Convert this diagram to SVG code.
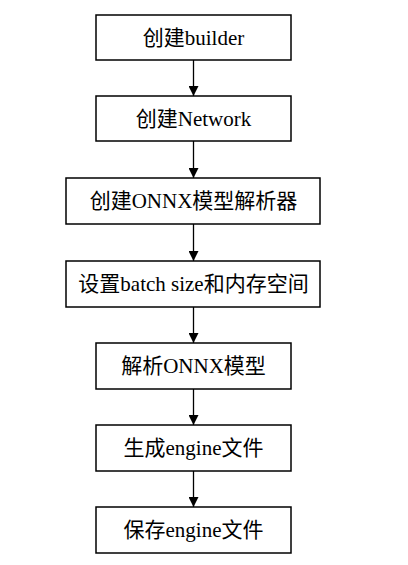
<svg xmlns="http://www.w3.org/2000/svg" width="408" height="565" viewBox="0 0 408 565">
<style>
.box{fill:#fff;stroke:#000;stroke-width:1.5}
.t{font-family:"Liberation Serif","Noto Sans CJK SC",serif;font-size:21px;fill:#000;text-anchor:middle;dominant-baseline:central}
.c{stroke:#000;stroke-width:1.3;fill:none;marker-end:url(#ah)}
</style>
<defs>
<marker id="ah" viewBox="0 0 10 10" refX="10" refY="5" markerWidth="10" markerHeight="10" markerUnits="userSpaceOnUse" orient="auto">
<path d="M0,0 L10,5 L0,10 Z" fill="#000"/>
</marker>
</defs>
<rect width="408" height="565" fill="#fff"/>
<g id="connectors">
<line class="c" x1="193.5" y1="60" x2="193.5" y2="96"/>
<line class="c" x1="193.5" y1="141" x2="193.5" y2="178"/>
<line class="c" x1="193.5" y1="224" x2="193.5" y2="261"/>
<line class="c" x1="193.5" y1="307" x2="193.5" y2="343"/>
<line class="c" x1="193.5" y1="389" x2="193.5" y2="425"/>
<line class="c" x1="193.5" y1="471" x2="193.5" y2="507"/>
</g>
<g id="n1"><rect class="box" x="96" y="15" width="195" height="45"/><text class="t" x="193.5" y="38">创建builder</text></g>
<g id="n2"><rect class="box" x="96" y="96" width="195" height="45"/><text class="t" x="193.5" y="119">创建Network</text></g>
<g id="n3"><rect class="box" x="66" y="178" width="254" height="46"/><text class="t" x="193.5" y="201">创建ONNX模型解析器</text></g>
<g id="n4"><rect class="box" x="66" y="261" width="254" height="46"/><text class="t" x="193.5" y="284">设置batch size和内存空间</text></g>
<g id="n5"><rect class="box" x="96" y="343" width="195" height="46"/><text class="t" x="193.5" y="366">解析ONNX模型</text></g>
<g id="n6"><rect class="box" x="96" y="425" width="195" height="46"/><text class="t" x="193.5" y="448">生成engine文件</text></g>
<g id="n7"><rect class="box" x="96" y="507" width="195" height="46"/><text class="t" x="193.5" y="530">保存engine文件</text></g>
</svg>
